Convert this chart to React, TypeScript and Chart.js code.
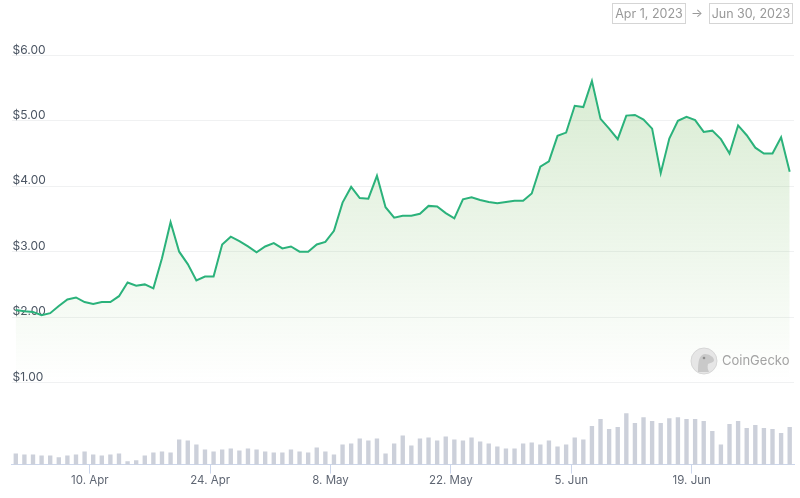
import React, { useEffect, useRef } from 'react';
import { Chart, registerables } from 'chart.js';

Chart.register(...registerables);

const prices = [
  2.11, 2.09, 2.08, 2.03, 2.06, 2.17, 2.27, 2.3, 2.23, 2.2, 2.23, 2.23, 2.32, 2.53, 2.48, 2.5, 2.44, 2.9, 3.45, 3.0,
  2.81, 2.56, 2.62, 2.62, 3.11, 3.23, 3.16, 3.08, 2.99, 3.08, 3.13, 3.05, 3.08, 3.0, 3.0, 3.11, 3.15, 3.32, 3.75, 3.99,
  3.82, 3.81, 4.16, 3.68, 3.52, 3.55, 3.55, 3.58, 3.7, 3.69, 3.59, 3.51, 3.8, 3.83, 3.79, 3.76, 3.74, 3.76, 3.78, 3.78,
  3.89, 4.3, 4.38, 4.77, 4.82, 5.23, 5.21, 5.61, 5.03, 4.88, 4.72, 5.08, 5.09, 5.02, 4.88, 4.2, 4.73, 5.0, 5.06, 5.01,
  4.83, 4.85, 4.72, 4.5, 4.93, 4.78, 4.59, 4.5, 4.5, 4.75, 4.22,
];

// volume in arbitrary units
const volumes = [
  10.7, 9.7, 9.7, 8.7, 8.7, 7, 8.7, 9.7, 12.7, 9.7, 8.7, 9.7, 10.7, 3, 4, 8.7, 11.7, 12.7, 11.7, 24.7,
  23.7, 19.7, 14.7, 12.7, 14.7, 15.7, 13.7, 15.7, 14.7, 12.7, 11.7, 11.7, 14.7, 12.7, 11.7, 16.7, 12.7, 9.7, 19.7, 20.7,
  25.7, 23.7, 25.7, 10.7, 20.7, 28.7, 18.7, 25.7, 26.7, 23.7, 27.7, 24.7, 23.7, 26.7, 22.7, 20.7, 17.7, 15.7, 15.7, 20.7,
  21.7, 19.7, 23.7, 17.7, 19.7, 26.7, 24.7, 38.3, 45.3, 35.3, 37.3, 51, 41.3, 47, 43.3, 41.3, 46, 47, 45.3, 45.3,
  43.3, 33.3, 19.7, 40.3, 43.3, 36.3, 39.3, 36.3, 35.3, 31.3, 37.3,
];

const priceTicks = [1, 2, 3, 4, 5, 6];
const dateTickDays = [8.6, 22.6, 36.6, 50.6, 64.6, 78.6];
const dateTickLabels = ['10. Apr', '24. Apr', '8. May', '22. May', '5. Jun', '19. Jun'];

const FONT = 'Inter, "Liberation Sans", sans-serif';

const App = () => {
  const canvasRef = useRef<HTMLCanvasElement | null>(null);

  useEffect(() => {
    if (!canvasRef.current) return;

    const chart = new Chart(canvasRef.current, {
      type: 'bar',
      data: {
        datasets: [
          {
            type: 'line',
            data: prices.map((p, i) => ({ x: i, y: p })),
            yAxisID: 'y',
            borderColor: '#2bb27b',
            borderWidth: 2,
            pointRadius: 0,
            tension: 0,
            fill: { value: 1 },
            backgroundColor: (ctx: any) => {
              const { ctx: c, scales, chartArea } = ctx.chart;
              if (!chartArea) return 'transparent';
              const g = c.createLinearGradient(0, scales.y.getPixelForValue(5.61), 0, scales.y.getPixelForValue(1));
              g.addColorStop(0, 'rgba(128,192,108,0.3)');
              g.addColorStop(1, 'rgba(128,192,108,0)');
              return g;
            },
          },
          {
            type: 'bar',
            data: volumes.map((v, i) => ({ x: i, y: v })),
            yAxisID: 'yVolume',
            backgroundColor: '#ccd0da',
            barThickness: 3.7,
          },
        ] as any,
      },
      options: {
        responsive: false,
        animation: false,
        layout: { padding: { top: 55.4, left: 9.5, right: 6, bottom: 10.6 } },
        plugins: { legend: { display: false }, tooltip: { enabled: false } },
        scales: {
          x: {
            type: 'linear',
            min: -0.5,
            max: 90.5,
            offset: false,
            afterBuildTicks: (axis: any) => {
              axis.ticks = dateTickDays.map((value) => ({ value }));
            },
            ticks: {
              autoSkip: false,
              maxRotation: 0,
              padding: 0,
              color: '#5f6673',
              font: { family: FONT, size: 11.5 },
              callback: (value: any) => dateTickLabels[dateTickDays.indexOf(value)],
            },
            grid: { offset: false, drawOnChartArea: false, drawTicks: true, tickLength: 9, tickColor: '#ccd6eb' },
            border: { color: '#ccd6eb', width: 1 },
          },
          y: {
            type: 'linear',
            position: 'left',
            min: -0.254,
            max: 6,
            afterBuildTicks: (axis: any) => {
              axis.ticks = priceTicks.map((value) => ({ value }));
            },
            ticks: {
              mirror: true,
              padding: 1,
              labelOffset: -5.5,
              color: '#4b5563',
              font: { family: FONT, size: 12 },
              callback: (value: any) => '$' + Number(value).toFixed(2),
            },
            grid: { color: '#f0f1f2', drawTicks: false },
            border: { display: false },
          },
          yVolume: {
            type: 'linear',
            display: false,
            min: 0,
            max: 409,
          },
        },
      } as any,
    });

    return () => {
      chart.destroy();
    };
  }, []);

  const dateBox: React.CSSProperties = {
    position: 'absolute',
    top: 3,
    height: 21,
    lineHeight: '19px',
    boxSizing: 'border-box',
    border: '1px solid #d5d5d5',
    textAlign: 'center',
    color: '#999',
    fontFamily: FONT,
    fontSize: 12.5,
  };

  return (
    <div style={{ position: 'absolute', left: 0, top: 0, width: 800, height: 498, background: '#fff', overflow: 'hidden' }}>
      <canvas ref={canvasRef} width={800} height={498} style={{ display: 'block' }} />
      <div style={{ ...dateBox, left: 612, width: 74 }}>Apr 1, 2023</div>
      <div style={{ position: 'absolute', left: 691, top: 3, lineHeight: '19px', color: '#999', fontFamily: FONT, fontSize: 12.5 }}>→</div>
      <div style={{ ...dateBox, left: 709, width: 84 }}>Jun 30, 2023</div>
      <svg style={{ position: 'absolute', left: 690, top: 347 }} width={28} height={28}>
        <circle cx={14} cy={14} r={13} fill="#e6e6e6" stroke="#d6d6d6" strokeWidth={1} />
        <path d="M8 25 C8 14 9 8 15 7 C19 7 24 10 24 13 C24 16 19 16 18 17 C17 20 18 23 19 25 Z" fill="#c9c9c9" />
        <circle cx={14} cy={11} r={1.3} fill="#8d8d8d" />
      </svg>
      <div style={{ position: 'absolute', left: 722, top: 351, lineHeight: '18px', color: '#a3a3a3', fontFamily: FONT, fontSize: 13 }}>CoinGecko</div>
    </div>
  );
};

export default App;
